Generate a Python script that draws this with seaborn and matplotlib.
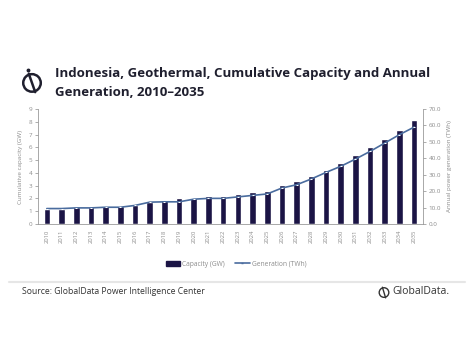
import numpy as np
import pandas as pd
import seaborn as sns
import matplotlib.pyplot as plt
from matplotlib.patches import Circle
from matplotlib.lines import Line2D

# data
years = [str(y) for y in range(2010, 2036)]
capacity_gw = [1.21, 1.21, 1.34, 1.34, 1.42, 1.42, 1.50, 1.76, 1.86, 2.05, 2.05, 2.20, 2.20,
               2.33, 2.48, 2.58, 3.05, 3.37, 3.79, 4.26, 4.78, 5.40, 6.03, 6.68, 7.39, 8.12]
generation_twh = [9.4, 9.4, 9.8, 9.8, 10.2, 10.2, 11.3, 13.3, 13.5, 13.5, 15.1, 15.6, 15.6,
                  16.5, 17.4, 18.3, 21.9, 23.9, 27.4, 31.4, 35.1, 39.5, 44.2, 49.3, 54.4, 59.0]

df = pd.DataFrame({'year': years, 'capacity': capacity_gw, 'generation': generation_twh})
df['pos'] = np.arange(len(df))

sns.set_style('white')
plt.rcParams['font.family'] = ['Open Sans', 'DejaVu Sans']

bar_color = '#1b1445'
line_color = '#4a6c9e'
grey = '#8c8c8c'

fig = plt.figure(figsize=(4.74, 3.55), dpi=100)
ax = fig.add_axes([38 / 474, 1 - 224 / 355, (423 - 38) / 474, (224 - 109) / 355])

sns.barplot(data=df, x='year', y='capacity', color=bar_color, width=0.45,
            saturation=1, ax=ax)
ax.set_ylim(0, 9)
ax.set_yticks(range(0, 10))
ax.set_xlim(-0.6, len(df) - 0.4)
ax.set_xlabel('')
ax.set_ylabel('Cumulative capacity (GW)', fontsize=4.5, color=grey, labelpad=4)
ax.tick_params(axis='y', labelsize=4.5, colors=grey, length=2, width=0.5, pad=2)
ax.tick_params(axis='x', labelsize=4.2, colors=grey, rotation=90, length=2, width=0.5, pad=2)

ax2 = ax.twinx()
sns.lineplot(data=df, x='pos', y='generation', color=line_color, lw=1.2,
             marker='_', markersize=2, ax=ax2, legend=False)
ax2.set_ylim(0, 70)
ax2.set_yticks(range(0, 71, 10))
ax2.set_yticklabels([f'{v:.1f}' for v in range(0, 71, 10)])
ax2.set_xlim(-0.6, len(df) - 0.4)
ax2.set_ylabel('Annual power generation (TWh)', fontsize=4.5, color=grey, labelpad=4)
ax2.tick_params(axis='y', labelsize=4.5, colors=grey, length=2, width=0.5, pad=2)

for a in (ax, ax2):
    a.spines['top'].set_visible(False)
    for side in ('left', 'right', 'bottom'):
        a.spines[side].set_color('#9a9a9a')
        a.spines[side].set_linewidth(0.6)
ax.spines['right'].set_visible(False)
ax2.spines['left'].set_visible(False)
ax2.spines['bottom'].set_visible(False)

# legend
handles = [plt.Rectangle((0, 0), 1, 1, color=bar_color),
           Line2D([0], [0], color=line_color, lw=1.2, marker='_', markersize=2)]
fig.legend(handles, ['Capacity (GW)', 'Generation (TWh)'], loc='center',
           bbox_to_anchor=(236 / 474, 1 - 264 / 355), ncol=2, frameon=False,
           fontsize=4.8, labelcolor=grey, handlelength=2.2, handleheight=0.8,
           columnspacing=1.5, handletextpad=0.3)

# title
fig.text(55 / 474, 1 - 73 / 355, 'Indonesia, Geothermal, Cumulative Capacity and Annual',
         fontsize=9.5, fontweight='bold', color='#1f1f2e', va='center')
fig.text(55 / 474, 1 - 92 / 355, 'Generation, 2010\u20132035',
         fontsize=9.5, fontweight='bold', color='#1f1f2e', va='center')

# title icon
ic = fig.add_axes([20 / 474, 1 - 97 / 355, 24 / 474, 30 / 355])
ic.set_xlim(-1.3, 1.3)
ic.set_ylim(-1.5, 1.5)
ic.set_aspect('equal')
ic.axis('off')
ic.add_patch(Circle((0, -0.1), 0.95, fill=False, lw=1.8, color='#1f1f2e'))
ic.plot([-0.35, 0.35], [0.9, -1.1], color='#1f1f2e', lw=1.8)
ic.plot([-0.45], [1.3], 'o', color='#1f1f2e', ms=1.8)

# separator line and footer
fig.add_artist(Line2D([0.02, 0.98], [1 - 282 / 355, 1 - 282 / 355],
                      color='#e6e6e6', lw=1.5))
fig.text(22 / 474, 1 - 292 / 355, 'Source: GlobalData Power Intelligence Center',
         fontsize=6.2, color='#333333', va='center')
fig.text(392 / 474, 1 - 292 / 355, 'GlobalData.', fontsize=7.5, color='#333333', va='center')
lg = fig.add_axes([377 / 474, 1 - 300 / 355, 14 / 474, 16 / 355])
lg.set_xlim(-1.3, 1.3)
lg.set_ylim(-1.5, 1.5)
lg.set_aspect('equal')
lg.axis('off')
lg.add_patch(Circle((0, -0.1), 0.9, fill=False, lw=1.0, color='#333333'))
lg.plot([-0.3, 0.3], [0.9, -1.1], color='#333333', lw=1.0)

fig.savefig('out.png', dpi=100)
